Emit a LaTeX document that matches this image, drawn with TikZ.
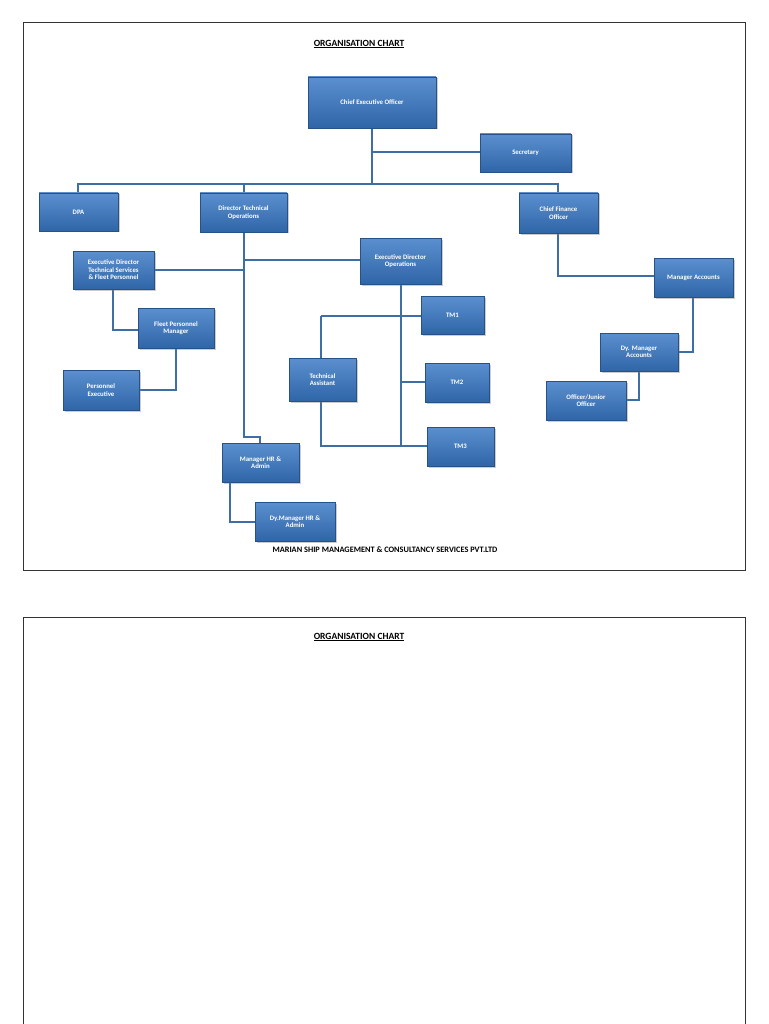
\documentclass[tikz,border=0pt]{standalone}
\usepackage{fontspec}
\setmainfont{Carlito}
\usetikzlibrary{shadows}
\definecolor{boxtop}{HTML}{5B8FCF}
\definecolor{boxbot}{HTML}{2F66A8}
\definecolor{lnc}{HTML}{3D6EA5}
\tikzset{
  box/.style={draw=boxbot!80!black, line width=0.4pt, top color=boxtop, bottom color=boxbot,
    drop shadow={shadow xshift=1.5pt, shadow yshift=-1.5pt, opacity=0.4},
    text=white, font=\bfseries\fontsize{6.8}{7.6}\selectfont, align=center, inner sep=1pt},
  ln/.style={draw=lnc, line width=1.6pt},
  frame/.style={draw=black!80, line width=1pt},
  ttl/.style={font=\bfseries\fontsize{9.5}{11}\selectfont},
}
\newcommand{\bx}[6]{\node[box, minimum width=#4-#2, minimum height=#5-#3] (#1) at ({(#2+#4)/2},{(#3+#5)/2}) {#6};}
\begin{document}
\begin{tikzpicture}[x=1pt,y=-1pt]
\useasboundingbox (0,0) rectangle (768,1024);
\fill[white] (0,0) rectangle (768,1024);
\draw[frame] (23,23) rectangle (745,570);
\draw[frame] (23,1040) -- (23,617) -- (745,617) -- (745,1040);
\node[ttl] (t1) at (359,44) {\underline{ORGANISATION CHART}};
\node[ttl] (t2) at (359,637) {\underline{ORGANISATION CHART}};
\node[font=\bfseries\fontsize{8.3}{10}\selectfont] (foot) at (385,550) {MARIAN SHIP MANAGEMENT \& CONSULTANCY SERVICES PVT.LTD};
% connectors first
\coordinate (j1) at (372,184);
\coordinate (j2) at (244,260);
\coordinate (j3) at (244,270);
\coordinate (j4) at (401,382);
\coordinate (j5) at (321,316);
\coordinate (j6) at (321,446);
\draw[ln] (372,128) -- (372,184);
\draw[ln] (372,152) -- (480,152);
\draw[ln] (78,193) -- (78,184) -- (558,184) -- (558,193);
\draw[ln] (244,184) -- (244,193);
\draw[ln] (244,232) -- (244,437) -- (260,437) -- (260,443);
\draw[ln] (154,270) -- (244,270);
\draw[ln] (244,260) -- (360,260);
\draw[ln] (113,289) -- (113,330) -- (138,330);
\draw[ln] (176,348) -- (176,390) -- (139,390);
\draw[ln] (401,284) -- (401,446);
\draw[ln] (321,316) -- (421,316);
\draw[ln] (401,382) -- (425,382);
\draw[ln] (321,316) -- (321,446) -- (427,446);
\draw[ln] (558,233) -- (558,276) -- (654,276);
\draw[ln] (693,297) -- (693,352) -- (678,352);
\draw[ln] (639,371) -- (639,400) -- (626,400);
\draw[ln] (230,482) -- (230,522) -- (255,522);
% boxes
\bx{ceo}{308}{77}{436}{128}{Chief Executive Officer}
\bx{sec}{480}{134}{571}{172}{Secretary}
\bx{dpa}{39}{193}{118}{231}{DPA}
\bx{dto}{200}{193}{287}{232}{Director Technical\\Operations}
\bx{cfo}{519}{193}{598}{233}{Chief Finance\\Officer}
\bx{edts}{73}{251}{154}{289}{Executive Director\\Technical Services\\\& Fleet Personnel}
\bx{edo}{360}{238}{441}{284}{Executive Director\\Operations}
\bx{ma}{654}{258}{733}{297}{Manager Accounts}
\bx{tm1}{421}{296}{484}{334}{TM1}
\bx{fpm}{138}{308}{214}{348}{Fleet Personnel\\Manager}
\bx{dma}{600}{333}{678}{371}{Dy. Manager\\Accounts}
\bx{ta}{289}{358}{356}{401}{Technical\\Assistant}
\bx{tm2}{425}{363}{489}{402}{TM2}
\bx{pe}{63}{370}{139}{410}{Personnel\\Executive}
\bx{oj}{546}{381}{626}{420}{Officer/Junior\\Officer}
\bx{tm3}{427}{427}{494}{466}{TM3}
\bx{hr}{222}{443}{299}{482}{Manager HR \&\\Admin}
\bx{dhr}{255}{502}{335}{541}{Dy.Manager HR \&\\Admin}
\end{tikzpicture}
\end{document}
